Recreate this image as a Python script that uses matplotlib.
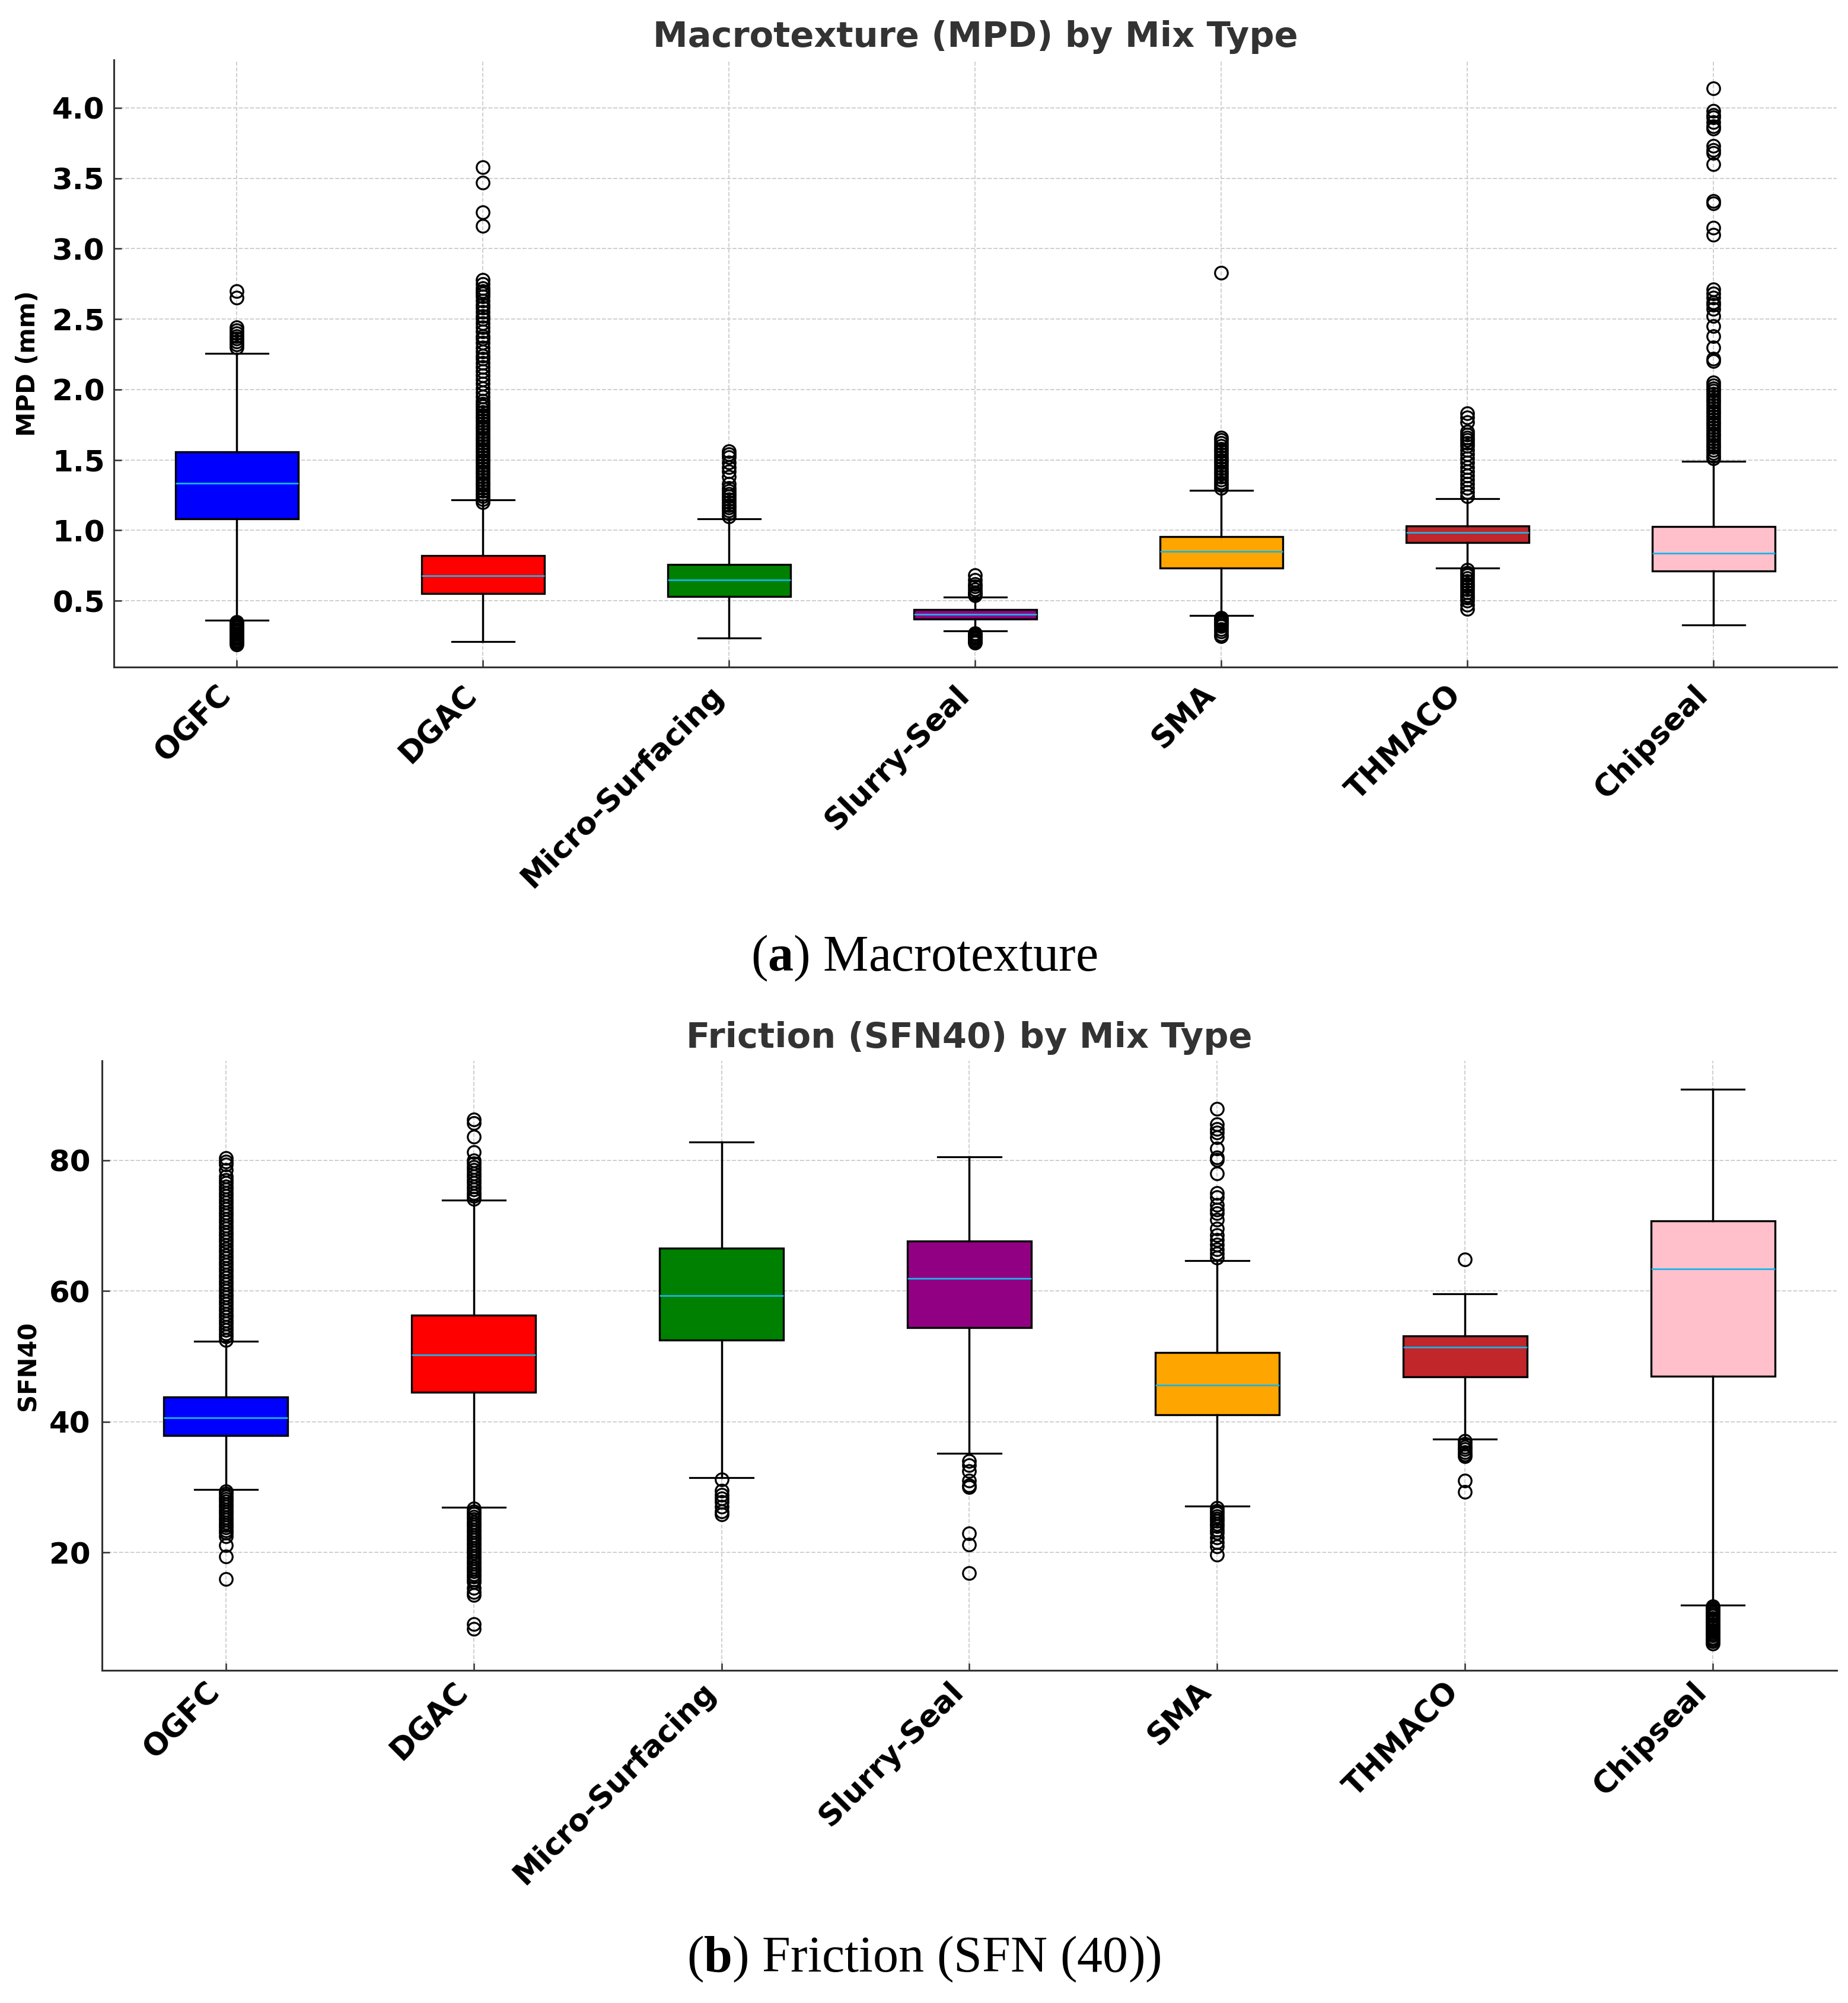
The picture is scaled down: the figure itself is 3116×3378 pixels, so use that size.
import matplotlib
matplotlib.use("Agg")
import matplotlib.pyplot as plt

plt.rcParams['font.family'] = ['DejaVu Sans']
plt.rcParams['mathtext.fontset'] = 'custom'
plt.rcParams['mathtext.rm'] = 'Liberation Serif'
plt.rcParams['mathtext.bf'] = 'Liberation Serif:bold'

mix_types = ["OGFC", "DGAC", "Micro-Surfacing", "Slurry-Seal", "SMA", "THMACO", "Chipseal"]
box_colors = ["#0000FF", "#FF0000", "#008000", "#910082", "#FFA500", "#C0262A", "#FFC0CB"]

# ---------------- MPD (mm) ----------------
mpd_q1 = [1.081, 0.553, 0.531, 0.370, 0.732, 0.914, 0.710]
mpd_med = [1.335, 0.676, 0.648, 0.404, 0.849, 0.985, 0.837]
mpd_q3 = [1.557, 0.819, 0.757, 0.438, 0.955, 1.032, 1.026]
mpd_wlo = [0.361, 0.212, 0.234, 0.287, 0.395, 0.732, 0.330]
mpd_whi = [2.256, 1.217, 1.081, 0.528, 1.285, 1.227, 1.489]
mpd_fliers = [
    # OGFC
    [2.70, 2.65, 2.44, 2.42, 2.40, 2.38, 2.36, 2.34, 2.32, 2.30,
     0.35, 0.34, 0.33, 0.32, 0.31, 0.30, 0.29, 0.28, 0.27, 0.26, 0.25, 0.24,
     0.23, 0.22, 0.21, 0.20, 0.19],
    # DGAC
    [3.58, 3.47, 3.26, 3.16, 2.78, 2.75, 2.72, 2.70, 2.68, 2.66, 2.63, 2.60,
     2.58, 2.55, 2.52, 2.50, 2.47, 2.44, 2.41, 2.38, 2.36, 2.33, 2.30, 2.27,
     2.24, 2.22, 2.19, 2.16, 2.13, 2.10, 2.07, 2.04, 2.01, 1.98, 1.95, 1.92,
     1.90, 1.88, 1.86, 1.84, 1.82, 1.80, 1.78, 1.76, 1.74, 1.72, 1.70, 1.68,
     1.66, 1.64, 1.62, 1.60, 1.58, 1.56, 1.54, 1.52, 1.50, 1.48, 1.46, 1.44,
     1.42, 1.40, 1.38, 1.36, 1.34, 1.32, 1.30, 1.28, 1.26, 1.24, 1.22, 1.20],
    # Micro-Surfacing
    [1.56, 1.54, 1.52, 1.48, 1.45, 1.42, 1.38, 1.33, 1.30, 1.28, 1.26, 1.24,
     1.22, 1.20, 1.18, 1.16, 1.14, 1.12, 1.10],
    # Slurry-Seal
    [0.68, 0.65, 0.62, 0.60, 0.58, 0.56, 0.55, 0.54,
     0.27, 0.26, 0.25, 0.24, 0.23, 0.22, 0.21, 0.20],
    # SMA
    [2.83, 1.66, 1.64, 1.62, 1.60, 1.58, 1.56, 1.54, 1.52, 1.50, 1.48, 1.46,
     1.44, 1.42, 1.40, 1.38, 1.36, 1.34, 1.32, 1.30,
     0.38, 0.37, 0.36, 0.35, 0.34, 0.33, 0.32, 0.30, 0.28, 0.26, 0.25],
    # THMACO
    [1.83, 1.80, 1.77, 1.70, 1.68, 1.66, 1.64, 1.62, 1.60, 1.57, 1.54, 1.51,
     1.48, 1.45, 1.42, 1.39, 1.36, 1.33, 1.30, 1.27, 1.24,
     0.72, 0.70, 0.68, 0.66, 0.64, 0.62, 0.60, 0.58, 0.56, 0.54, 0.52, 0.50,
     0.47, 0.44],
    # Chipseal
    [4.14, 3.98, 3.95, 3.93, 3.90, 3.87, 3.85, 3.73, 3.70, 3.68, 3.60, 3.34,
     3.32, 3.15, 3.10, 2.71, 2.68, 2.65, 2.62, 2.60, 2.57, 2.52, 2.45, 2.38,
     2.30, 2.22, 2.20, 2.05, 2.03, 2.01, 1.99, 1.97, 1.95, 1.93, 1.91, 1.89,
     1.87, 1.85, 1.83, 1.81, 1.79, 1.77, 1.75, 1.73, 1.71, 1.69, 1.67, 1.65,
     1.63, 1.61, 1.59, 1.57, 1.55, 1.53, 1.51],
]
mpd_ticks = [0.5, 1.0, 1.5, 2.0, 2.5, 3.0, 3.5, 4.0]

# ---------------- SFN40 ----------------
sfn_q1 = [37.93, 44.55, 52.45, 54.43, 41.07, 46.86, 47.00]
sfn_med = [40.59, 50.27, 59.27, 61.93, 45.57, 51.43, 63.36]
sfn_q3 = [43.80, 56.27, 66.57, 67.66, 50.55, 53.14, 70.73]
sfn_wlo = [29.68, 26.95, 31.46, 35.20, 27.10, 37.32, 11.96]
sfn_whi = [52.32, 73.86, 82.80, 80.55, 64.66, 59.61, 90.84]
sfn_fliers = [
    # OGFC
    [80.3, 79.8, 79.3, 78.5, 77.5, 77.0, 76.5, 76.0, 75.5, 75.0, 74.5, 74.0,
     73.5, 73.0, 72.5, 72.0, 71.5, 71.0, 70.5, 70.0, 69.5, 69.0, 68.5, 68.0,
     67.5, 67.0, 66.5, 66.0, 65.5, 65.0, 64.5, 64.0, 63.5, 63.0, 62.5, 62.0,
     61.5, 61.0, 60.5, 60.0, 59.5, 59.0, 58.5, 58.0, 57.5, 57.0, 56.5, 56.0,
     55.5, 55.0, 54.5, 54.0, 53.5, 53.0, 52.5,
     29.4, 29.0, 28.6, 28.2, 27.8, 27.4, 27.0, 26.6, 26.2, 25.8, 25.4, 25.0,
     24.6, 24.2, 23.8, 23.4, 23.0, 22.5, 21.1, 19.4, 16.0],
    # DGAC
    [86.2, 85.7, 83.6, 81.2, 80.0, 79.5, 79.0, 78.5, 78.0, 77.5, 77.0, 76.5,
     76.0, 75.5, 75.0, 74.5, 74.1,
     26.7, 26.3, 25.9, 25.5, 25.1, 24.7, 24.3, 23.9, 23.5, 23.1, 22.7, 22.3,
     21.9, 21.5, 21.1, 20.7, 20.3, 19.9, 19.5, 19.1, 18.7, 18.3, 17.9, 17.5,
     17.1, 16.7, 16.3, 15.9, 15.5, 14.6, 14.0, 13.5, 9.1, 8.3],
    # Micro-Surfacing
    [31.2, 29.5, 28.8, 28.3, 27.7, 27.0, 26.3, 25.8],
    # Slurry-Seal
    [34.0, 33.4, 32.5, 31.0, 30.3, 30.0, 22.9, 21.2, 16.9],
    # SMA
    [87.9, 85.5, 84.8, 84.2, 83.5, 81.8, 80.4, 80.1, 78.0, 75.0, 74.3, 73.2,
     72.4, 71.9, 70.9, 69.5, 68.5, 67.8, 67.1, 66.4, 65.7, 65.1,
     26.8, 26.4, 26.0, 25.6, 25.2, 24.8, 24.4, 24.0, 23.5, 23.0, 22.3, 21.6,
     20.9, 19.7],
    # THMACO
    [64.8, 37.1, 36.6, 36.2, 35.8, 35.4, 35.0, 34.7, 31.0, 29.3],
    # Chipseal
    [11.8, 11.5, 11.2, 10.9, 10.6, 10.3, 10.0, 9.7, 9.4, 9.1, 8.8, 8.5, 8.2,
     7.9, 7.6, 7.3, 7.0, 6.7, 6.4, 6.1],
]
sfn_ticks = [20, 40, 60, 80]

titles = ["Macrotexture (MPD) by Mix Type", "Friction (SFN40) by Mix Type"]
ylabels = ["MPD (mm)", "SFN40"]
captions = [r"($\mathbf{a}$) Macrotexture", r"($\mathbf{b}$) Friction (SFN (40))"]

fig = plt.figure(figsize=(31.16, 33.78), dpi=100)
ax_top = fig.add_axes([0.0616, 0.6670, 0.9323, 0.3031])
ax_bot = fig.add_axes([0.0552, 0.1661, 0.9387, 0.3043])

panels = [
    (ax_top, mpd_q1, mpd_med, mpd_q3, mpd_wlo, mpd_whi, mpd_fliers, mpd_ticks,
     (0.03, 4.34), -0.0425, 11, 16),
    (ax_bot, sfn_q1, sfn_med, sfn_q3, sfn_wlo, sfn_whi, sfn_fliers, sfn_ticks,
     (2.0, 95.2), -0.0354, 14, 8),
]

for i, (ax, q1, med, q3, wlo, whi, fl, ticks, ylim, ylab_x, ypad, xpad) in enumerate(panels):
    stats = []
    for k, name in enumerate(mix_types):
        stats.append(dict(label=name, q1=q1[k], med=med[k], q3=q3[k],
                          whislo=wlo[k], whishi=whi[k], fliers=fl[k]))
    bp = ax.bxp(stats, positions=list(range(1, len(mix_types) + 1)), widths=0.5,
                patch_artist=True, capwidths=0.255,
                boxprops=dict(edgecolor='black', linewidth=2.4),
                whiskerprops=dict(color='black', linewidth=2.5),
                capprops=dict(color='black', linewidth=2.3),
                medianprops=dict(color='#17B5E8', linewidth=2.0),
                flierprops=dict(marker='o', markerfacecolor='none',
                                markeredgecolor='black', markersize=15.5,
                                markeredgewidth=2.3))
    for patch, c in zip(bp['boxes'], box_colors):
        patch.set_facecolor(c)
    ax.set_xlim(0.5, 7.5)
    ax.set_ylim(*ylim)
    ax.set_yticks(ticks)
    ax.grid(True, color='#cccccc', linestyle='--', linewidth=1.3)
    ax.set_axisbelow(True)
    for s in ['top', 'right']:
        ax.spines[s].set_visible(False)
    for s in ['left', 'bottom']:
        ax.spines[s].set_color('#333333')
        ax.spines[s].set_linewidth(2.2)
    ax.tick_params(axis='both', direction='in', length=9, width=1.8, color='#333333')
    ax.tick_params(axis='y', pad=ypad, labelsize=36)
    ax.tick_params(axis='x', pad=xpad, labelsize=37)
    for lab in ax.get_yticklabels():
        lab.set_fontweight('bold')
    ax.set_xticks(list(range(1, len(mix_types) + 1)))
    ax.set_xticklabels(mix_types, rotation=45, ha='right', fontweight='bold')
    ax.set_title(titles[i], fontsize=42.5, fontweight='bold', color='#333333', pad=16)
    ax.set_ylabel(ylabels[i], fontsize=30, fontweight='bold')
    ax.yaxis.set_label_coords(ylab_x, 0.5)

fig.text(0.5, 0.5216, captions[0], fontsize=62, family='Liberation Serif',
         ha='center', va='center')
fig.text(0.5, 0.0219, captions[1], fontsize=62, family='Liberation Serif',
         ha='center', va='center')

fig.savefig("out.png", dpi=100, facecolor='white')
